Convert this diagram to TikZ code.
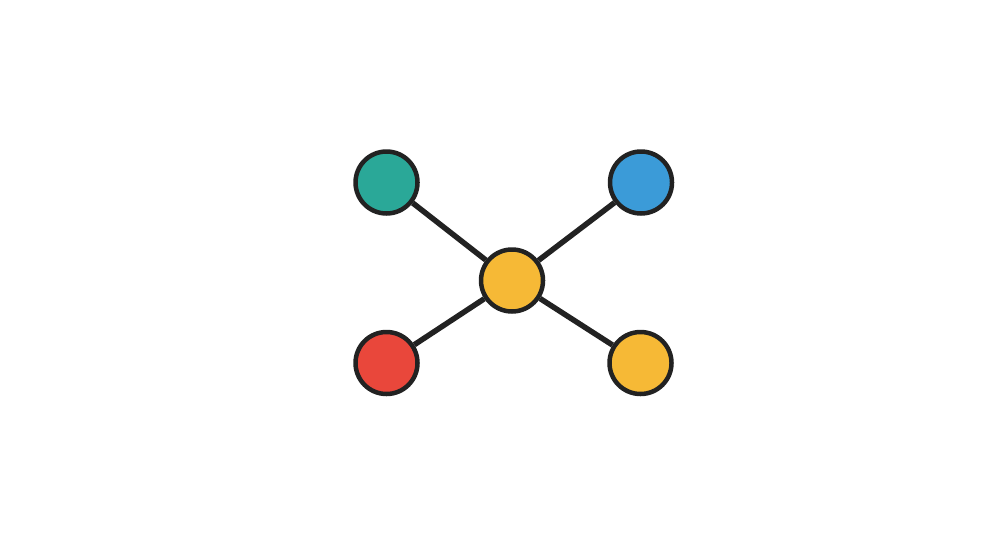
\documentclass[tikz,border=0pt]{standalone}
\usepackage{tikz}
\usepackage{xcolor}
\definecolor{hubyellow}{HTML}{F6B936}
\definecolor{leafteal}{HTML}{2AA898}
\definecolor{leafblue}{HTML}{3B9BD8}
\definecolor{leafred}{HTML}{E9473B}
\definecolor{inkdark}{HTML}{222222}

\begin{document}
\begin{tikzpicture}[
      every node/.style = {shape=circle, draw=inkdark, line width=0.045cm,
        minimum size=0.62cm, inner sep=0pt},
      link/.style = {draw=inkdark, line width=0.055cm}]
  \useasboundingbox (0,0) rectangle (10,5.45);
  \node[fill=hubyellow] (hub) at (5.12,2.645) {};
  \node[fill=leafteal] (teal) at (3.865,3.625) {};
  \node[fill=leafblue] (blue) at (6.41,3.625) {};
  \node[fill=leafred] (red) at (3.865,1.82) {};
  \node[fill=hubyellow] (yellow) at (6.405,1.82) {};
  \foreach \leaf in {teal,blue,red,yellow}
    \path[link] (hub) -- (\leaf);
\end{tikzpicture}
\end{document}
